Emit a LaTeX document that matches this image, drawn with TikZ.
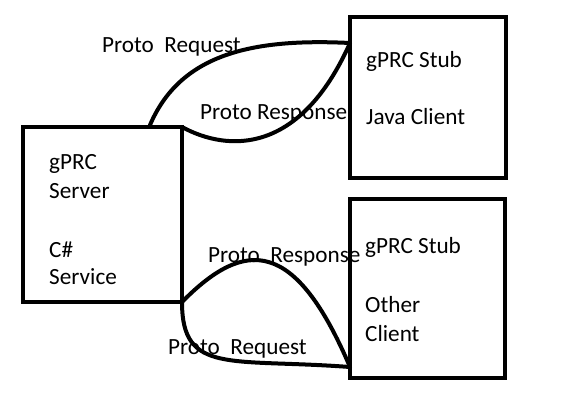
\documentclass[tikz,border=0pt]{standalone}
\usepackage{fontspec}
\setmainfont{Carlito}
\begin{document}
\begin{tikzpicture}[x=1pt,y=-1pt,
  box/.style={draw, line width=4.2pt, inner sep=0pt, outer sep=0pt},
  lbl/.style={anchor=base west, inner sep=0pt, font=\fontsize{23.2}{27}\selectfont},
  wire/.style={line width=4pt, line join=round, line cap=round}]
\useasboundingbox (0,0) rectangle (583,408);
% boxes
\node[box, minimum width=159pt, minimum height=175pt] (srv) at (102.5,214.5) {};
\node[box, minimum width=156pt, minimum height=161pt] (java) at (428,97.5) {};
\node[box, minimum width=155pt, minimum height=179pt] (other) at (427.5,288.5) {};
% box texts
\node[lbl] (s1) at (49,169) {gPRC};
\node[lbl] (s2) at (49,198) {Server};
\node[lbl] (s3) at (49,257) {C\#};
\node[lbl] (s4) at (49,284) {Service};
\node[lbl] (j1) at (366,67) {gPRC Stub};
\node[lbl] (j2) at (366,124) {Java Client};
\node[lbl] (o1) at (365,253) {gPRC Stub};
\node[lbl] (o2) at (365,312) {Other};
\node[lbl] (o3) at (365,341) {Client};
% edge labels
\node[lbl] (lreqa) at (102,52) {Proto\ \ Request};
\node[lbl] (lresa) at (200,119) {Proto Response};
\node[lbl] (lresb) at (208,262) {Proto\ \ Response};
\node[lbl] (lreqb) at (168,354) {Proto\ \ Request};
% connectors
\coordinate (jin) at ([yshift=-26pt]java.north west);
\coordinate (oin) at ([yshift=11pt]other.south west);
\coordinate (sout) at ([xshift=-32pt,yshift=2pt]srv.north east);
\draw[wire] (sout) .. controls (180,55) and (250,38) .. (jin);
\draw[wire] (jin) .. controls (300,155) and (228,152) .. (srv.north east);
\draw[wire] (srv.south east) .. controls (245,238) and (295,238) .. (oin);
\draw[wire] (srv.south east) .. controls (182,375) and (230,358) .. (oin);
\end{tikzpicture}
\end{document}
